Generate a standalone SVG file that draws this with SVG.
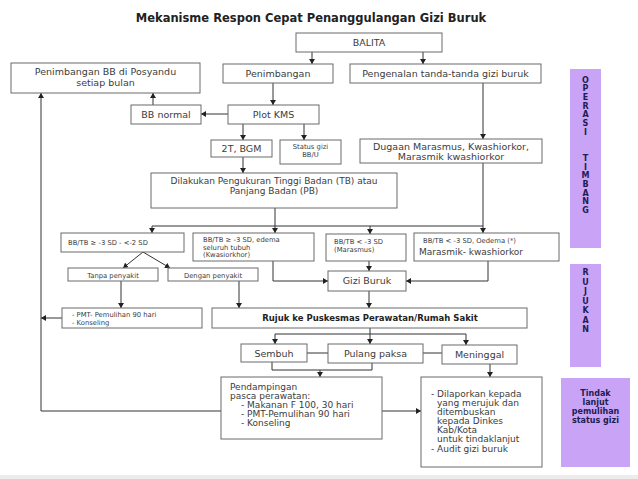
<svg xmlns="http://www.w3.org/2000/svg" width="638" height="479" viewBox="0 0 638 479">
<defs>
<marker id="ah" markerUnits="userSpaceOnUse" markerWidth="6" markerHeight="6" refX="5" refY="3" orient="auto">
<path d="M0,0 L5,3 L0,6 z" fill="#222"/>
</marker>
<style>
.b{fill:#fff;stroke:#6a6a6a;stroke-width:1}
.bar{fill:#c9a3f5;stroke:none}
.t{font-family:"DejaVu Sans",Verdana,sans-serif;font-size:9.5px;fill:#3c3c3c}
.s{font-family:"DejaVu Sans",Verdana,sans-serif;font-size:6.8px;fill:#3c3c3c}
.m{font-family:"DejaVu Sans",Verdana,sans-serif;font-size:9px;fill:#3c3c3c}
.c{text-anchor:middle}
.bl{font-family:"DejaVu Sans",Verdana,sans-serif;font-weight:bold;fill:#222}
.nv{font-family:"DejaVu Sans",Verdana,sans-serif;font-weight:bold;font-size:8px;fill:#1d1d50;text-anchor:middle}
.ln{fill:none;stroke:#333;stroke-width:1}
.a{marker-end:url(#ah)}
</style>
</defs>
<rect width="638" height="479" fill="#fff"/>
<rect x="0" y="475" width="638" height="4" fill="#ececec"/>
<text class="bl c" x="311" y="22" font-size="11.5">Mekanisme Respon Cepat Penanggulangan Gizi Buruk</text>

<g id="connectors">
<path class="ln a" d="M312,52 V64"/>
<path class="ln a" d="M423,52 V64"/>
<path class="ln a" d="M273,83 V105"/>
<path class="ln a" d="M228,114 H201"/>
<path class="ln a" d="M153,105 V93"/>
<path class="ln a" d="M243,124 V140"/>
<path class="ln a" d="M304,124 V140"/>
<path class="ln a" d="M243,157 V173"/>
<path class="ln a" d="M483,83 V139"/>
<path class="ln a" d="M483,163 V233"/>
<path class="ln a" d="M275,208 V233"/>
<path class="ln" d="M152,226 H483"/>
<path class="ln a" d="M152,226 V233"/>
<path class="ln a" d="M370,226 V234"/>
<path class="ln a" d="M143,252 L123,268"/>
<path class="ln a" d="M143,252 L170,268"/>
<path class="ln a" d="M121,281 V308"/>
<path class="ln a" d="M239,281 V308"/>
<path class="ln a" d="M62,318 H41"/>
<path class="ln a" d="M221,411 H41 V93"/>
<path class="ln a" d="M273,261 V281 H328"/>
<path class="ln a" d="M369,261 V271"/>
<path class="ln a" d="M488,261 V281 H406"/>
<path class="ln a" d="M369,291 V308"/>
<path class="ln a" d="M370,328 V344"/>
<path class="ln" d="M275,334 H466"/>
<path class="ln a" d="M275,334 V344"/>
<path class="ln a" d="M466,334 V345"/>
<path class="ln" d="M307,353 H328"/>
<path class="ln" d="M423,353 H442"/>
<path class="ln" d="M272,362 V370 H372 V363"/>
<path class="ln a" d="M320,370 V377"/>
<path class="ln a" d="M490,364 V377"/>
<path class="ln a" d="M382,411 H421"/>
</g>

<g id="balita"><rect class="b" x="296" y="33" width="146" height="19"/><text class="t c" x="369" y="46">BALITA</text></g>
<g id="penimbangan"><rect class="b" x="223" y="64" width="110" height="19"/><text class="t c" x="278" y="77">Penimbangan</text></g>
<g id="pengenalan"><rect class="b" x="350" y="64" width="191" height="19"/><text class="t c" x="445.5" y="77">Pengenalan tanda-tanda gizi buruk</text></g>
<g id="posyandu"><rect class="b" x="11" y="63" width="189" height="30"/><text class="t c" x="105.5" y="75">Penimbangan BB di Posyandu</text><text class="t c" x="105.5" y="86">setiap bulan</text></g>
<g id="plotkms"><rect class="b" x="228" y="105" width="91" height="19"/><text class="t c" x="273.5" y="118">Plot KMS</text></g>
<g id="bbnormal"><rect class="b" x="131" y="105" width="70" height="19"/><text class="t c" x="166" y="118">BB normal</text></g>
<g id="bgm"><rect class="b" x="211" y="140" width="61" height="17"/><text class="t c" x="241.5" y="152">2T, BGM</text></g>
<g id="statusgizi"><rect class="b" x="280" y="140" width="61" height="24"/><text class="s c" x="310.5" y="148.5" font-size="6.2">Status gizi</text><text class="s c" x="310.5" y="156.5" font-size="6.2">BB/U</text></g>
<g id="dugaan"><rect class="b" x="360" y="139" width="182" height="24"/><text class="t c" x="451" y="149.5">Dugaan Marasmus, Kwashiorkor,</text><text class="t c" x="451" y="160">Marasmik kwashiorkor</text></g>
<g id="dilakukan"><rect class="b" x="151" y="173" width="246" height="35"/><text class="m c" x="274" y="184">Dilakukan Pengukuran Tinggi Badan (TB) atau</text><text class="m c" x="274" y="194">Panjang Badan (PB)</text></g>
<g id="bbtb2sd"><rect class="b" x="61" y="233" width="123" height="19"/><text class="s" x="68" y="245">BB/TB ≥ -3 SD -  &lt;-2 SD</text></g>
<g id="kwasiorkhor"><rect class="b" x="193" y="233" width="121" height="28"/><text class="s" x="203" y="242" font-size="6.5">BB/TB ≥ -3 SD, edema</text><text class="s" x="203" y="249.5" font-size="6.5">seluruh tubuh</text><text class="s" x="203" y="257" font-size="6.5">(Kwasiorkhor)</text></g>
<g id="marasmus"><rect class="b" x="326" y="234" width="80" height="27"/><text class="s" x="334" y="243.5">BB/TB &lt; -3 SD</text><text class="s" x="334" y="251.5">(Marasmus)</text></g>
<g id="oedema"><rect class="b" x="414" y="233" width="145" height="28"/><text class="s" x="423" y="243">BB/TB &lt; -3 SD, Oedema (*)</text><text class="m" x="419" y="255">Marasmik- kwashiorkor</text></g>
<g id="tanpa"><rect class="b" x="68" y="268" width="90" height="13"/><text class="s c" x="113" y="277.5">Tanpa penyakit</text></g>
<g id="dengan"><rect class="b" x="168" y="268" width="90" height="13"/><text class="s c" x="213" y="277.5">Dengan penyakit</text></g>
<g id="gizburuk"><rect class="b" x="328" y="271" width="78" height="20"/><text class="t c" x="367" y="284">Gizi Buruk</text></g>
<g id="pmt"><rect class="b" x="62" y="308" width="140" height="20"/><text class="s" x="72" y="316.5">-  PMT- Pemulihan 90 hari</text><text class="s" x="72" y="324.5">-  Konseling</text></g>
<g id="rujuk"><rect class="b" x="212" y="308" width="315" height="20"/><text class="bl c" x="370" y="321" font-size="8.5">Rujuk ke Puskesmas Perawatan/Rumah Sakit</text></g>
<g id="sembuh"><rect class="b" x="241" y="344" width="66" height="18"/><text class="t c" x="274" y="356.5">Sembuh</text></g>
<g id="pulangpaksa"><rect class="b" x="328" y="344" width="95" height="19"/><text class="t c" x="375.5" y="357">Pulang paksa</text></g>
<g id="meninggal"><rect class="b" x="442" y="345" width="75" height="19"/><text class="t c" x="479.5" y="358">Meninggal</text></g>
<g id="pendampingan"><rect class="b" x="221" y="377" width="161" height="62"/>
<text class="m" x="230" y="390">Pendampingan</text>
<text class="m" x="230" y="399">pasca perawatan:</text>
<text class="m" x="241" y="408">-  Makanan F 100, 30 hari</text>
<text class="m" x="241" y="417">-  PMT-Pemulihan 90 hari</text>
<text class="m" x="241" y="426">-  Konseling</text></g>
<g id="dilaporkan"><rect class="b" x="421" y="377" width="121" height="90"/>
<text class="m" x="431" y="397">- Dilaporkan kepada</text>
<text class="m" x="437" y="406">yang merujuk dan</text>
<text class="m" x="437" y="415">ditembuskan</text>
<text class="m" x="437" y="424">kepada Dinkes</text>
<text class="m" x="437" y="433">Kab/Kota</text>
<text class="m" x="437" y="442">untuk tindaklanjut</text>
<text class="m" x="431" y="452">- Audit gizi buruk</text></g>

<g id="bar-operasi"><rect class="bar" x="570" y="69" width="31" height="179"/>
<text class="nv" x="585.5" y="82.5">O</text><text class="nv" x="585.5" y="91.2">P</text><text class="nv" x="585.5" y="99.9">E</text><text class="nv" x="585.5" y="108.6">R</text><text class="nv" x="585.5" y="117.3">A</text><text class="nv" x="585.5" y="126">S</text><text class="nv" x="585.5" y="134.7">I</text>
<text class="nv" x="585.5" y="160.8">T</text><text class="nv" x="585.5" y="169.5">I</text><text class="nv" x="585.5" y="178.2">M</text><text class="nv" x="585.5" y="186.9">B</text><text class="nv" x="585.5" y="195.6">A</text><text class="nv" x="585.5" y="204.3">N</text><text class="nv" x="585.5" y="213">G</text></g>
<g id="bar-rujukan"><rect class="bar" x="570" y="264" width="31" height="103"/>
<text class="nv" x="585.5" y="275">R</text><text class="nv" x="585.5" y="284.5">U</text><text class="nv" x="585.5" y="294">J</text><text class="nv" x="585.5" y="303.5">U</text><text class="nv" x="585.5" y="313">K</text><text class="nv" x="585.5" y="322.5">A</text><text class="nv" x="585.5" y="332">N</text></g>
<g id="bar-tindak"><rect class="bar" x="561" y="378" width="69" height="89"/>
<text class="nv" x="595.5" y="396">Tindak</text><text class="nv" x="595.5" y="405">lanjut</text><text class="nv" x="595.5" y="414">pemulihan</text><text class="nv" x="595.5" y="423">status gizi</text></g>
</svg>
